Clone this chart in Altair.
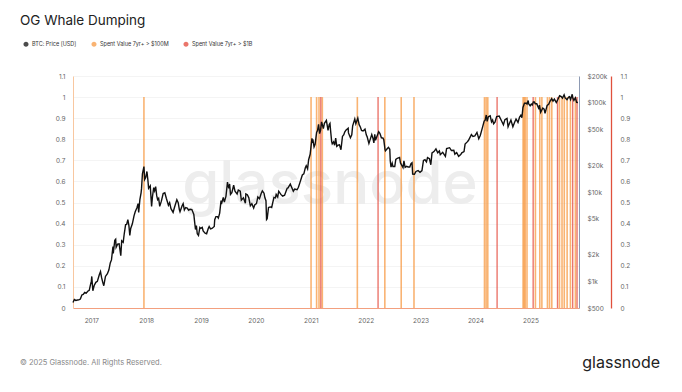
import altair as alt
import pandas as pd

# ---------------- data ----------------
price_dates = [
    # 2016
    "2016-09-01", "2016-09-10", "2016-09-20", "2016-10-01", "2016-10-10", "2016-10-20", "2016-10-30", "2016-11-08",
    "2016-11-18", "2016-11-28", "2016-12-08", "2016-12-18", "2016-12-25",
    # 2017
    "2017-01-01", "2017-01-04", "2017-01-11", "2017-01-20", "2017-01-31", "2017-02-10", "2017-02-23", "2017-03-03",
    "2017-03-10", "2017-03-18", "2017-03-25", "2017-04-05", "2017-04-18", "2017-04-28", "2017-05-07", "2017-05-15",
    "2017-05-25", "2017-05-27", "2017-06-06", "2017-06-12", "2017-06-15", "2017-06-25", "2017-07-05", "2017-07-16",
    "2017-07-22", "2017-08-01", "2017-08-08", "2017-08-17", "2017-08-24", "2017-09-01", "2017-09-08", "2017-09-14",
    "2017-09-20", "2017-10-01", "2017-10-12", "2017-10-20", "2017-11-01", "2017-11-08", "2017-11-12", "2017-11-20",
    "2017-11-28", "2017-12-01", "2017-12-07", "2017-12-17", "2017-12-22", "2017-12-29",
    # 2018
    "2018-01-06", "2018-01-12", "2018-01-17", "2018-01-28", "2018-02-06", "2018-02-12", "2018-02-20", "2018-02-26",
    "2018-03-05", "2018-03-12", "2018-03-18", "2018-03-25", "2018-04-01", "2018-04-12", "2018-04-24", "2018-05-05",
    "2018-05-15", "2018-05-29", "2018-06-06", "2018-06-15", "2018-06-29", "2018-07-08", "2018-07-24", "2018-08-02",
    "2018-08-10", "2018-08-14", "2018-08-28", "2018-09-04", "2018-09-12", "2018-09-21", "2018-10-01", "2018-10-11",
    "2018-10-20", "2018-11-01", "2018-11-14", "2018-11-20", "2018-11-25", "2018-12-01", "2018-12-07", "2018-12-15",
    "2018-12-24", "2018-12-30",
    # 2019
    "2019-01-09", "2019-01-15", "2019-01-28", "2019-02-07", "2019-02-18", "2019-02-24", "2019-03-05", "2019-03-15",
    "2019-03-30", "2019-04-02", "2019-04-10", "2019-04-20", "2019-04-26", "2019-05-05", "2019-05-14", "2019-05-17",
    "2019-05-29", "2019-06-05", "2019-06-16", "2019-06-26", "2019-06-29", "2019-07-05", "2019-07-10", "2019-07-16",
    "2019-07-25", "2019-08-06", "2019-08-15", "2019-08-29", "2019-09-06", "2019-09-19", "2019-09-26", "2019-10-10",
    "2019-10-23", "2019-10-26", "2019-11-05", "2019-11-15", "2019-11-25", "2019-12-05", "2019-12-17", "2019-12-25",
    # 2020
    "2020-01-05", "2020-01-14", "2020-01-25", "2020-02-05", "2020-02-13", "2020-02-24", "2020-03-01", "2020-03-08",
    "2020-03-12", "2020-03-16", "2020-03-25", "2020-04-05", "2020-04-15", "2020-04-30", "2020-05-10", "2020-05-15",
    "2020-05-25", "2020-06-01", "2020-06-15", "2020-06-27", "2020-07-10", "2020-07-27", "2020-08-02", "2020-08-17",
    "2020-08-25", "2020-09-06", "2020-09-15", "2020-10-01", "2020-10-10", "2020-10-21", "2020-11-05", "2020-11-15",
    "2020-11-25", "2020-12-01", "2020-12-10", "2020-12-17", "2020-12-27",
    # 2021
    "2021-01-08", "2021-01-11", "2021-01-14", "2021-01-22", "2021-01-29", "2021-02-08", "2021-02-14", "2021-02-21",
    "2021-02-28", "2021-03-06", "2021-03-13", "2021-03-25", "2021-04-01", "2021-04-14", "2021-04-25", "2021-05-03",
    "2021-05-08", "2021-05-12", "2021-05-19", "2021-05-23", "2021-06-01", "2021-06-08", "2021-06-15", "2021-06-22",
    "2021-07-01", "2021-07-10", "2021-07-20", "2021-07-30", "2021-08-08", "2021-08-14", "2021-08-22", "2021-09-06",
    "2021-09-08", "2021-09-21", "2021-09-30", "2021-10-06", "2021-10-20", "2021-10-27", "2021-11-09", "2021-11-18",
    "2021-11-26", "2021-12-04", "2021-12-14", "2021-12-27",
    # 2022
    "2022-01-05", "2022-01-10", "2022-01-22", "2022-01-28", "2022-02-10", "2022-02-18", "2022-02-24", "2022-03-02",
    "2022-03-07", "2022-03-28", "2022-04-05", "2022-04-15", "2022-04-25", "2022-05-01", "2022-05-09", "2022-05-12",
    "2022-05-22", "2022-06-01", "2022-06-10", "2022-06-13", "2022-06-18", "2022-06-26", "2022-07-01", "2022-07-13",
    "2022-07-20", "2022-07-30", "2022-08-14", "2022-08-20", "2022-09-06", "2022-09-12", "2022-09-20", "2022-09-30",
    "2022-10-10", "2022-10-21", "2022-10-29", "2022-11-05", "2022-11-09", "2022-11-21", "2022-12-01", "2022-12-15",
    "2022-12-28",
    # 2023
    "2023-01-10", "2023-01-20", "2023-01-30", "2023-02-09", "2023-02-16", "2023-03-01", "2023-03-10", "2023-03-18",
    "2023-03-31", "2023-04-13", "2023-04-25", "2023-05-06", "2023-05-12", "2023-05-28", "2023-06-15", "2023-06-23",
    "2023-07-13", "2023-07-25", "2023-08-10", "2023-08-17", "2023-08-29", "2023-09-11", "2023-09-25", "2023-10-02",
    "2023-10-17", "2023-10-24", "2023-11-09", "2023-11-15", "2023-12-05", "2023-12-15", "2023-12-28",
    # 2024
    "2024-01-11", "2024-01-23", "2024-02-02", "2024-02-15", "2024-02-28", "2024-03-05", "2024-03-13", "2024-03-19",
    "2024-03-27", "2024-04-08", "2024-04-17", "2024-04-24", "2024-05-01", "2024-05-10", "2024-05-21", "2024-06-07",
    "2024-06-18", "2024-07-05", "2024-07-15", "2024-07-29", "2024-08-05", "2024-08-14", "2024-08-24", "2024-09-06",
    "2024-09-17", "2024-09-27", "2024-10-10", "2024-10-20", "2024-10-29", "2024-11-05", "2024-11-12", "2024-11-22",
    "2024-12-05", "2024-12-09", "2024-12-17", "2024-12-20", "2024-12-30",
    # 2025
    "2025-01-07", "2025-01-13", "2025-01-20", "2025-01-27", "2025-02-02", "2025-02-12", "2025-02-27", "2025-03-02",
    "2025-03-10", "2025-03-24", "2025-04-02", "2025-04-08", "2025-04-22", "2025-05-02", "2025-05-10", "2025-05-22",
    "2025-05-31", "2025-06-09", "2025-06-22", "2025-07-03", "2025-07-14", "2025-07-25", "2025-08-02", "2025-08-13",
    "2025-08-20", "2025-09-01", "2025-09-12", "2025-09-18", "2025-09-25", "2025-10-06", "2025-10-10", "2025-10-17",
    "2025-10-27", "2025-11-04", "2025-11-13",
]
price_values = [
    # 2016
    575, 622, 608, 615, 617, 630, 700, 710,
    750, 735, 770, 790, 890,
    # 2017
    1000, 1130, 780, 895, 970, 995, 1180, 1280,
    1100, 970, 890, 1130, 1210, 1340, 1600, 1730,
    2450, 2050, 2870, 2950, 2400, 2600, 2620, 1930,
    2830, 2730, 3400, 4300, 4320, 4900, 4200, 3250,
    3900, 4400, 5400, 6000, 6700, 7400, 5900, 8200,
    9800, 10900, 16000, 19300, 13800, 14500,
    # 2018
    17000, 13800, 11000, 11700, 6900, 8900, 11200, 10300,
    11500, 9100, 8200, 8500, 6900, 7900, 9600, 9800,
    8500, 7100, 7600, 6500, 5900, 6700, 8200, 7600,
    6300, 6000, 7000, 7400, 6300, 6700, 6600, 6250,
    6400, 6350, 5600, 4500, 3800, 4200, 3400, 3250,
    4000, 3900,
    # 2019
    4000, 3650, 3450, 3400, 3900, 4100, 3850, 3900,
    4100, 4900, 5300, 5300, 5100, 5800, 8000, 7300,
    8700, 7700, 9000, 12900, 11900, 11000, 12300, 9400,
    9800, 11900, 10200, 9500, 10500, 10200, 8100, 8600,
    7500, 9500, 9300, 8600, 7000, 7400, 6600, 7200,
    # 2020
    7400, 8800, 8400, 9600, 10300, 9700, 8600, 8000,
    4900, 5000, 6700, 6800, 6700, 8700, 8600, 9400,
    8800, 10200, 9400, 9000, 9200, 11000, 11100, 12300,
    11400, 10200, 10800, 10600, 11300, 12900, 15500, 16000,
    18700, 19700, 18200, 23000, 26500,
    # 2021
    40000, 35500, 39000, 32000, 34300, 46500, 48800, 57500,
    45200, 48900, 61200, 51500, 59000, 63500, 49100, 57000,
    58800, 49000, 37000, 34700, 36600, 33500, 40200, 32500,
    33500, 33800, 29800, 42000, 44000, 47000, 49300, 51800,
    46000, 40600, 43800, 55300, 66000, 58400, 67500, 56900,
    53600, 49000, 48300, 50700,
    # 2022
    43500, 41800, 35000, 37700, 44000, 40000, 35500, 44400,
    38000, 47400, 45500, 40500, 40400, 38500, 30000, 28900,
    30300, 31700, 30100, 22500, 19000, 21000, 19300, 19300,
    23200, 23900, 24400, 21200, 18800, 22400, 18900, 19400,
    19100, 19100, 20800, 21300, 15900, 15800, 17000, 17400,
    16600,
    # 2023
    17400, 22600, 23000, 21800, 24300, 23600, 20200, 27400,
    28400, 30400, 27500, 28800, 26200, 27900, 25100, 30700,
    31400, 29200, 29400, 26600, 27700, 25100, 26300, 27500,
    28400, 34500, 36700, 37800, 44000, 42000, 42600,
    # 2024
    46600, 39500, 43000, 51800, 62500, 63700, 73000, 62000,
    70000, 71600, 61300, 64200, 58300, 60800, 70100, 71000,
    65000, 56800, 64800, 66800, 54000, 58700, 64200, 53900,
    60300, 65900, 60300, 69000, 72700, 68000, 88700, 98900,
    98800, 97000, 106000, 97500, 92700,
    # 2025
    96900, 94500, 102000, 102000, 97700, 97800, 84700, 94200,
    78500, 87500, 85000, 76300, 93500, 96500, 103000, 111600,
    104500, 110200, 101000, 109600, 120000, 117600, 113000, 123300,
    113500, 108300, 116000, 117100, 109000, 124700, 113000, 106500,
    114000, 101500, 101000,
]
assert len(price_dates) == len(price_values)

orange_dates = [
    "2017-12-17", "2021-01-02", "2021-02-08", "2021-02-24", "2021-03-18", "2021-11-06",
    "2022-05-08", "2022-08-25", "2022-11-18", "2024-03-01", "2024-03-12", "2024-03-23",
    "2024-11-13", "2024-11-20", "2024-11-27", "2024-12-09", "2025-02-03", "2025-03-04",
    "2025-03-18", "2025-04-24", "2025-05-08", "2025-05-23", "2025-07-13", "2025-07-30",
    "2025-08-14", "2025-09-02", "2025-09-24", "2025-10-27",
]
red_dates = ["2021-03-08", "2022-03-24", "2024-05-24", "2025-01-19", "2025-06-30", "2025-10-09", "2025-11-07"]

legend_labels = ["BTC: Price [USD]", "Spent Value 7yr+ > $100M", "Spent Value 7yr+ > $1B"]
legend_colors = ["#111111", "#f79a43", "#e4483a"]
left_ticks = [0, 0.1, 0.2, 0.3, 0.4, 0.5, 0.6, 0.7, 0.8, 0.9, 1, 1.1]
price_ticks = [500, 1000, 2000, 5000, 10000, 20000, 50000, 100000, 200000]
x_domain = ["2016-09-01", "2025-11-20"]
title_text = "OG Whale Dumping"
footer_text = "\u00a9 2025 Glassnode. All Rights Reserved."
brand_text = "glassnode"

# ---------------- frames ----------------
price_df = pd.DataFrame({"date": price_dates, "price": price_values, "series": legend_labels[0]})
orange_df = pd.DataFrame({"date": orange_dates, "v": 1, "base": 0, "series": legend_labels[1]})
red_df = pd.DataFrame({"date": red_dates, "v": 1, "base": 0, "series": legend_labels[2]})

FONT = "Inter"
W, H = 506, 232

x_enc = alt.X(
    "date:T",
    scale=alt.Scale(domain=x_domain),
    axis=alt.Axis(
        title=None, format="%Y", tickCount=alt.TimeIntervalStep(interval="year", step=1),
        labelOverlap=False, ticks=False, labelPadding=9, domainColor="#f3a07f", domainWidth=1.2,
        labelFontSize=6.5, labelColor="#666", labelFont=FONT, grid=False,
    ),
)
color_enc = alt.Color(
    "series:N",
    scale=alt.Scale(domain=legend_labels, range=legend_colors),
    legend=alt.Legend(
        orient="none", legendX=-50, legendY=-35, direction="horizontal", title=None,
        symbolType="circle", symbolSize=6, symbolStrokeWidth=2.6, labelFontSize=5.5,
        labelFont=FONT, labelColor="#333", columnPadding=10, labelOffset=3, padding=0,
    ),
)

watermark = alt.Chart(pd.DataFrame({"t": [brand_text]})).mark_text(
    font=FONT, fontSize=60, color="#ededed", align="center", baseline="alphabetic", fontWeight=500
).encode(text="t:N", x=alt.value(257), y=alt.value(128))

orange_layer = alt.Chart(orange_df).mark_rule(strokeWidth=1.6, opacity=0.75).encode(
    x=x_enc,
    y=alt.Y("v:Q", scale=alt.Scale(domain=[0, 1.1], nice=False),
            axis=alt.Axis(orient="left", values=left_ticks, format="~g", grid=True, gridColor="#efefef",
                          gridWidth=0.7, domainColor="#f8c7a0", ticks=False, labelPadding=8, title=None,
                          labelFontSize=6.5, labelColor="#666", labelFont=FONT)),
    y2="base:Q",
    color=color_enc,
)

red_layer = alt.Chart(red_df).mark_rule(strokeWidth=1.4, opacity=0.75).encode(
    x=x_enc,
    y=alt.Y("v:Q", scale=alt.Scale(domain=[0, 1.1], nice=False),
            axis=alt.Axis(orient="right", offset=32, values=left_ticks, format="~g", grid=False,
                          domainColor="#e0503c", domainWidth=1.3, ticks=False, labelPadding=9, title=None,
                          labelFontSize=6.5, labelColor="#666", labelFont=FONT)),
    y2="base:Q",
    color=color_enc,
)

price_layer = alt.Chart(price_df).mark_line(strokeWidth=1.4, interpolate="linear").encode(
    x=x_enc,
    y=alt.Y("price:Q", scale=alt.Scale(type="log", domain=[500, 200000], nice=False),
            axis=alt.Axis(orient="right", values=price_ticks, grid=False, domainColor="#8d9ab3",
                          ticks=False, labelPadding=8, title=None, labelFontSize=6.5, labelColor="#666",
                          labelFont=FONT,
                          labelExpr="datum.value >= 1000 ? '$' + (datum.value / 1000) + 'k' : '$' + datum.value")),
    color=color_enc,
)

title_layer = alt.Chart(pd.DataFrame({"t": [title_text]})).mark_text(
    font=FONT, fontSize=13.5, color="#222", align="left", baseline="alphabetic"
).encode(text="t:N", x=alt.value(-53), y=alt.value(-51))

footer_layer = alt.Chart(pd.DataFrame({"t": [footer_text]})).mark_text(
    font=FONT, fontSize=7.5, color="#888", align="left", baseline="middle"
).encode(text="t:N", x=alt.value(-53), y=alt.value(287))

brand_layer = alt.Chart(pd.DataFrame({"t": [brand_text]})).mark_text(
    font=FONT, fontSize=16, color="#222", align="right", baseline="middle"
).encode(text="t:N", x=alt.value(587), y=alt.value(287))

chart = alt.layer(
    watermark, orange_layer, red_layer, price_layer, title_layer, footer_layer, brand_layer
).resolve_scale(y="independent").properties(
    width=W, height=H,
    autosize=alt.AutoSizeParams(type="none"),
    padding={"left": 65, "top": 68, "right": 95, "bottom": 74},
    background="white",
).configure_view(stroke=None)

chart.save("out.html", embed_options={"renderer": "svg", "actions": False})
